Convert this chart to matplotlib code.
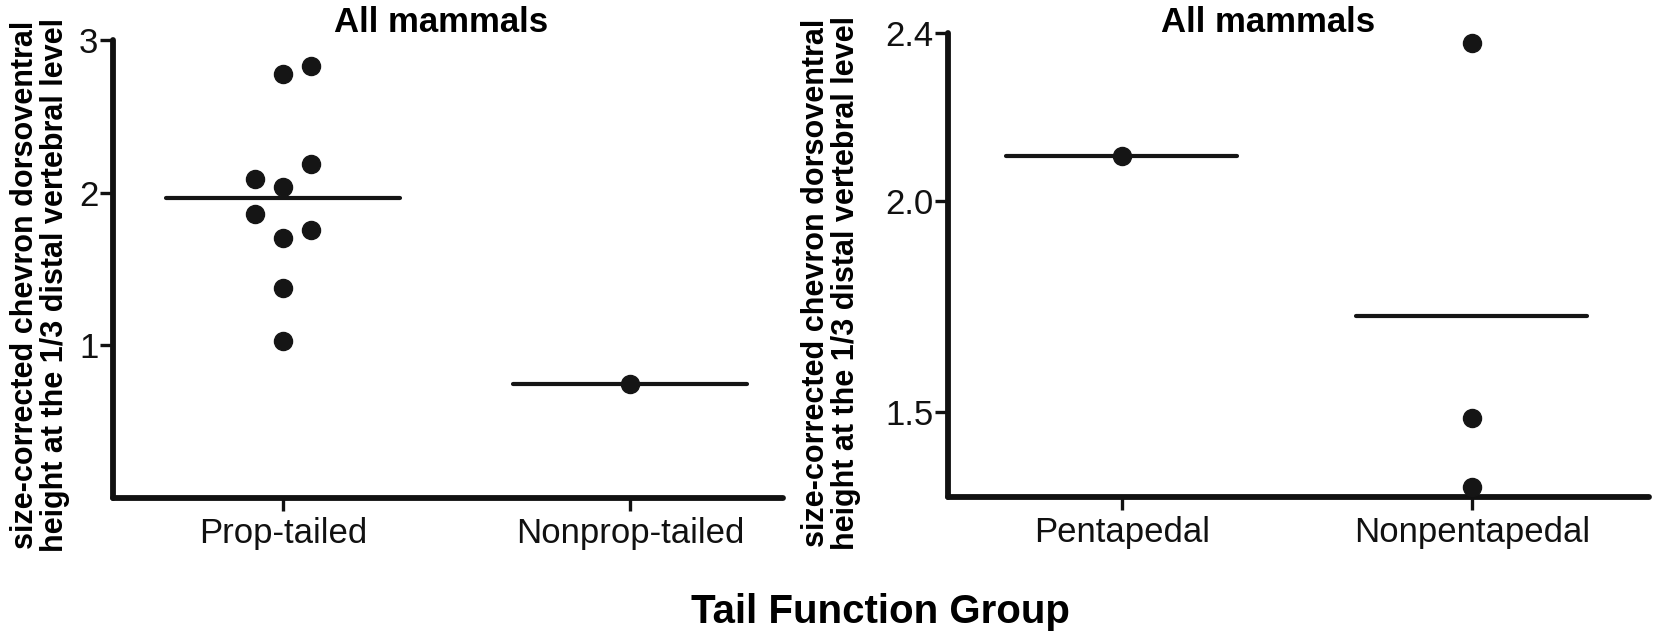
import matplotlib
matplotlib.use("Agg")
import matplotlib.pyplot as plt
import numpy as np

plt.rcParams['font.family'] = ['Liberation Sans', 'DejaVu Sans']

# ---- data ----
left_categories = ["Prop-tailed", "Nonprop-tailed"]
prop_values = [2.83, 2.78, 2.19, 2.087, 2.04, 1.857, 1.754, 1.70, 1.376, 1.03]
prop_columns = [1, 0, 1, -1, 0, -1, 1, 0, 0, 0]
nonprop_values = [0.744]
nonprop_columns = [0]
left_yticks = [1, 2, 3]
left_yticklabels = ["1", "2", "3"]

right_categories = ["Pentapedal", "Nonpentapedal"]
penta_values = [2.109]
penta_columns = [0]
nonpenta_values = [2.376, 1.484, 1.32]
nonpenta_columns = [0, 0, 0]
right_yticks = [1.5, 2.0, 2.4]
right_yticklabels = ["1.5", "2.0", "2.4"]

title = "All mammals"
ylabel = "size-corrected chevron dorsoventral\nheight at the 1/3 distal vertebral level"
xlabel = "Tail Function Group"

# ---- figure ----
W, H = 1655, 639
fig = plt.figure(figsize=(W / 100, H / 100), dpi=100)

def px_axes(x0, x1, ytop, ybot):
    return fig.add_axes([x0 / W, 1 - ybot / H, (x1 - x0) / W, (ybot - ytop) / H])

ax1 = px_axes(113, 783, 40, 498)
ax2 = px_axes(948, 1649, 33.3, 497.3)

col_step = 0.081
dot_color = "#151515"

def draw_panel(ax, groups, cats, yticks, yticklabels, ylim, xlim, half):
    for gi, (vals, cols) in enumerate(groups):
        vals = np.asarray(vals, dtype=float)
        xs = gi + np.asarray(cols) * col_step
        ax.plot(xs, vals, 'o', ms=13, color=dot_color, zorder=4, clip_on=False)
        m = vals.mean()
        ax.plot([gi - half, gi + half], [m, m], '-', color=dot_color, lw=3.0,
                solid_capstyle='round', zorder=3, clip_on=False)
    ax.set_xlim(*xlim)
    ax.set_ylim(*ylim)
    ax.set_xticks(range(len(cats)))
    ax.set_xticklabels(cats, fontsize=25)
    ax.set_yticks(yticks)
    ax.set_yticklabels(yticklabels, fontsize=25)
    for s in ['top', 'right']:
        ax.spines[s].set_visible(False)
    for s in ['left', 'bottom']:
        ax.spines[s].set_linewidth(4.2)
        ax.spines[s].set_color('#111111')
        ax.spines[s].set_capstyle('round')
    ax.tick_params(axis='y', direction='out', length=9.5, width=2.4, pad=1, colors='#111111')
    ax.tick_params(axis='x', direction='out', length=9.5, width=2.4, pad=4, colors='#111111')
    for t in ax.get_xticklabels() + ax.get_yticklabels():
        t.set_color('#111111')

draw_panel(ax1, [(prop_values, prop_columns), (nonprop_values, nonprop_columns)],
           left_categories, left_yticks, left_yticklabels, (0, 3), (-0.49, 1.441), 0.337)
draw_panel(ax2, [(penta_values, penta_columns), (nonpenta_values, nonpenta_columns)],
           right_categories, right_yticks, right_yticklabels, (1.296, 2.4), (-0.497, 1.506), 0.33)

# titles
fig.text(441 / W, 1 - 23 / H, title, ha='center', va='center', fontsize=25, fontweight='bold')
fig.text(1268 / W, 1 - 23 / H, title, ha='center', va='center', fontsize=25, fontweight='bold')

# y labels
fig.text(40 / W, 1 - 285 / H, ylabel, rotation=90, ha='center', va='center', fontsize=22,
         fontweight='bold', multialignment='center', linespacing=1.0)
fig.text(831 / W, 1 - 283 / H, ylabel, rotation=90, ha='center', va='center', fontsize=22,
         fontweight='bold', multialignment='center', linespacing=1.0)

# shared x label
fig.text(880 / W, 1 - 612 / H, xlabel, ha='center', va='center', fontsize=29, fontweight='bold')

fig.savefig("out.png", dpi=100, facecolor='white')
